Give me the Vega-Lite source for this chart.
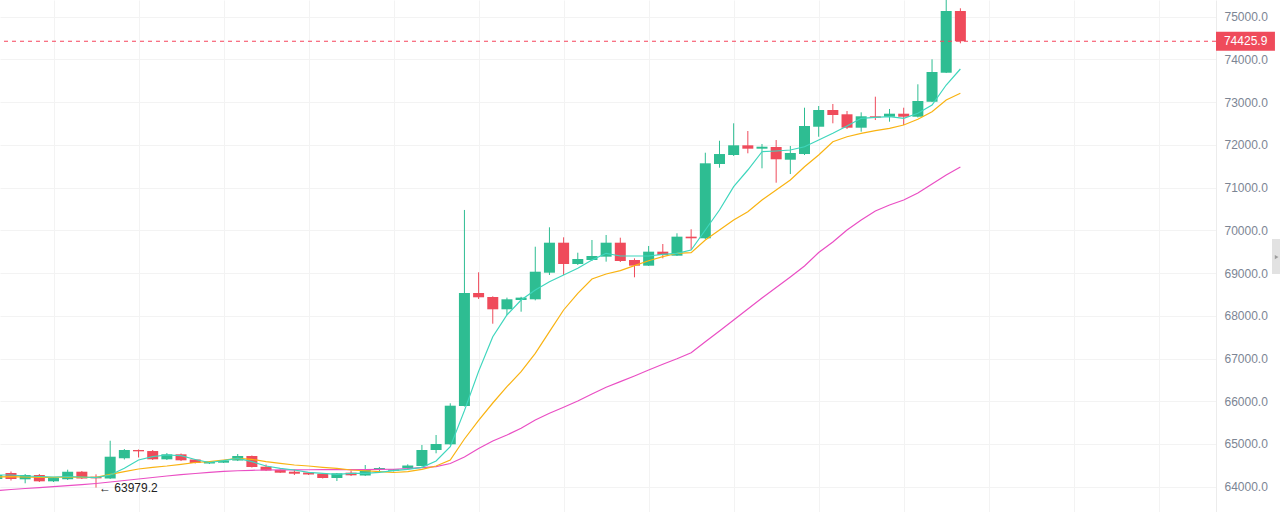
{
  "$schema": "https://vega.github.io/schema/vega-lite/v6.json",
  "width": 1216,
  "height": 512,
  "autosize": "none",
  "padding": {"left": 0, "top": 0, "bottom": 0, "right": 64},
  "background": "white",
  "config": {
    "view": {"stroke": null},
    "font": "Liberation Sans",
    "scale": {"continuousPadding": 0},
    "axis": {"gridColor": "#f3f3f3", "gridWidth": 1}
  },
  "datasets": {
    "candles": [
      {"i": -1, "o": 64180, "h": 64321, "l": 64133, "c": 64274, "ma5": 64274, "ma10": 64227, "ma30": 63911},
      {"i": 0, "o": 64321, "h": 64356, "l": 64145, "c": 64180, "ma5": 64274, "ma10": 64234, "ma30": 63935},
      {"i": 1, "o": 64173, "h": 64297, "l": 64080, "c": 64274, "ma5": 64250, "ma10": 64227, "ma30": 63958},
      {"i": 2, "o": 64274, "h": 64297, "l": 64110, "c": 64126, "ma5": 64239, "ma10": 64220, "ma30": 63977},
      {"i": 3, "o": 64126, "h": 64227, "l": 64110, "c": 64203, "ma5": 64227, "ma10": 64220, "ma30": 64000},
      {"i": 4, "o": 64173, "h": 64398, "l": 64157, "c": 64351, "ma5": 64239, "ma10": 64227, "ma30": 64023},
      {"i": 5, "o": 64351, "h": 64367, "l": 64180, "c": 64192, "ma5": 64227, "ma10": 64220, "ma30": 64047},
      {"i": 6, "o": 64234, "h": 64290, "l": 63979.2, "c": 64196, "ma5": 64211, "ma10": 64220, "ma30": 64075},
      {"i": 7, "o": 64192, "h": 65076, "l": 64180, "c": 64702, "ma5": 64274, "ma10": 64290, "ma30": 64110},
      {"i": 8, "o": 64665, "h": 64882, "l": 64637, "c": 64859, "ma5": 64430, "ma10": 64351, "ma30": 64145},
      {"i": 9, "o": 64859, "h": 64871, "l": 64684, "c": 64828, "ma5": 64625, "ma10": 64414, "ma30": 64180},
      {"i": 10, "o": 64835, "h": 64859, "l": 64625, "c": 64641, "ma5": 64702, "ma10": 64454, "ma30": 64215},
      {"i": 11, "o": 64641, "h": 64788, "l": 64625, "c": 64758, "ma5": 64742, "ma10": 64484, "ma30": 64250},
      {"i": 12, "o": 64758, "h": 64777, "l": 64601, "c": 64618, "ma5": 64726, "ma10": 64524, "ma30": 64281},
      {"i": 13, "o": 64637, "h": 64648, "l": 64543, "c": 64555, "ma5": 64637, "ma10": 64566, "ma30": 64309},
      {"i": 14, "o": 64543, "h": 64601, "l": 64531, "c": 64590, "ma5": 64567, "ma10": 64585, "ma30": 64337},
      {"i": 15, "o": 64562, "h": 64625, "l": 64555, "c": 64613, "ma5": 64609, "ma10": 64625, "ma30": 64360},
      {"i": 16, "o": 64613, "h": 64765, "l": 64601, "c": 64718, "ma5": 64665, "ma10": 64665, "ma30": 64374},
      {"i": 17, "o": 64718, "h": 64730, "l": 64449, "c": 64461, "ma5": 64586, "ma10": 64641, "ma30": 64384},
      {"i": 18, "o": 64468, "h": 64520, "l": 64367, "c": 64379, "ma5": 64485, "ma10": 64585, "ma30": 64391},
      {"i": 19, "o": 64391, "h": 64403, "l": 64321, "c": 64328, "ma5": 64430, "ma10": 64547, "ma30": 64393},
      {"i": 20, "o": 64351, "h": 64398, "l": 64274, "c": 64304, "ma5": 64391, "ma10": 64508, "ma30": 64395},
      {"i": 21, "o": 64332, "h": 64344, "l": 64274, "c": 64286, "ma5": 64337, "ma10": 64484, "ma30": 64397},
      {"i": 22, "o": 64304, "h": 64321, "l": 64192, "c": 64204, "ma5": 64314, "ma10": 64454, "ma30": 64398},
      {"i": 23, "o": 64204, "h": 64321, "l": 64133, "c": 64314, "ma5": 64290, "ma10": 64431, "ma30": 64399},
      {"i": 24, "o": 64328, "h": 64379, "l": 64251, "c": 64267, "ma5": 64314, "ma10": 64391, "ma30": 64400},
      {"i": 25, "o": 64262, "h": 64508, "l": 64251, "c": 64403, "ma5": 64314, "ma10": 64374, "ma30": 64402},
      {"i": 26, "o": 64403, "h": 64461, "l": 64367, "c": 64438, "ma5": 64337, "ma10": 64351, "ma30": 64405},
      {"i": 27, "o": 64374, "h": 64414, "l": 64356, "c": 64407, "ma5": 64375, "ma10": 64332, "ma30": 64408},
      {"i": 28, "o": 64431, "h": 64524, "l": 64414, "c": 64496, "ma5": 64407, "ma10": 64351, "ma30": 64421},
      {"i": 29, "o": 64484, "h": 64976, "l": 64473, "c": 64859, "ma5": 64454, "ma10": 64407, "ma30": 64445},
      {"i": 30, "o": 64859, "h": 65210, "l": 64782, "c": 64999, "ma5": 64602, "ma10": 64484, "ma30": 64468},
      {"i": 31, "o": 64992, "h": 65952, "l": 64976, "c": 65896, "ma5": 64936, "ma10": 64625, "ma30": 64543},
      {"i": 32, "o": 65889, "h": 70477, "l": 65877, "c": 68534, "ma5": 65780, "ma10": 65117, "ma30": 64695},
      {"i": 33, "o": 68534, "h": 69018, "l": 68393, "c": 68433, "ma5": 66700, "ma10": 65550, "ma30": 64894},
      {"i": 34, "o": 68440, "h": 68456, "l": 67815, "c": 68152, "ma5": 67511, "ma10": 65959, "ma30": 65069},
      {"i": 35, "o": 68152, "h": 68425, "l": 68018, "c": 68386, "ma5": 68019, "ma10": 66341, "ma30": 65210},
      {"i": 36, "o": 68369, "h": 68444, "l": 68096, "c": 68425, "ma5": 68370, "ma10": 66692, "ma30": 65366},
      {"i": 37, "o": 68386, "h": 69617, "l": 68362, "c": 69032, "ma5": 68604, "ma10": 67122, "ma30": 65561},
      {"i": 38, "o": 69009, "h": 70071, "l": 68955, "c": 69711, "ma5": 68798, "ma10": 67628, "ma30": 65718},
      {"i": 39, "o": 69711, "h": 69837, "l": 68955, "c": 69212, "ma5": 68955, "ma10": 68136, "ma30": 65858},
      {"i": 40, "o": 69212, "h": 69477, "l": 69189, "c": 69329, "ma5": 69112, "ma10": 68526, "ma30": 66006},
      {"i": 41, "o": 69306, "h": 69774, "l": 69283, "c": 69400, "ma5": 69306, "ma10": 68861, "ma30": 66170},
      {"i": 42, "o": 69384, "h": 69891, "l": 69267, "c": 69711, "ma5": 69462, "ma10": 68978, "ma30": 66327},
      {"i": 43, "o": 69711, "h": 69828, "l": 69259, "c": 69283, "ma5": 69399, "ma10": 69056, "ma30": 66458},
      {"i": 44, "o": 69306, "h": 69345, "l": 68901, "c": 69173, "ma5": 69399, "ma10": 69173, "ma30": 66591},
      {"i": 45, "o": 69173, "h": 69634, "l": 69166, "c": 69501, "ma5": 69399, "ma10": 69289, "ma30": 66731},
      {"i": 46, "o": 69501, "h": 69680, "l": 69345, "c": 69423, "ma5": 69439, "ma10": 69383, "ma30": 66865},
      {"i": 47, "o": 69407, "h": 69931, "l": 69400, "c": 69852, "ma5": 69462, "ma10": 69463, "ma30": 66996},
      {"i": 48, "o": 69852, "h": 70025, "l": 69540, "c": 69814, "ma5": 69540, "ma10": 69477, "ma30": 67136},
      {"i": 49, "o": 69814, "h": 71817, "l": 69797, "c": 71569, "ma5": 70008, "ma10": 69774, "ma30": 67394},
      {"i": 50, "o": 71552, "h": 72097, "l": 71466, "c": 71786, "ma5": 70476, "ma10": 70008, "ma30": 67644},
      {"i": 51, "o": 71763, "h": 72505, "l": 71740, "c": 71990, "ma5": 71021, "ma10": 70242, "ma30": 67901},
      {"i": 52, "o": 71990, "h": 72325, "l": 71803, "c": 71911, "ma5": 71412, "ma10": 70436, "ma30": 68159},
      {"i": 53, "o": 71911, "h": 72021, "l": 71452, "c": 71957, "ma5": 71840, "ma10": 70710, "ma30": 68416},
      {"i": 54, "o": 71950, "h": 72114, "l": 71115, "c": 71663, "ma5": 71857, "ma10": 70944, "ma30": 68662},
      {"i": 55, "o": 71653, "h": 71974, "l": 71318, "c": 71810, "ma5": 71880, "ma10": 71178, "ma30": 68908},
      {"i": 56, "o": 71786, "h": 72870, "l": 71763, "c": 72442, "ma5": 71957, "ma10": 71489, "ma30": 69165},
      {"i": 57, "o": 72425, "h": 72910, "l": 72191, "c": 72816, "ma5": 72114, "ma10": 71763, "ma30": 69481},
      {"i": 58, "o": 72816, "h": 72957, "l": 72505, "c": 72699, "ma5": 72271, "ma10": 72074, "ma30": 69727},
      {"i": 59, "o": 72716, "h": 72793, "l": 72372, "c": 72402, "ma5": 72442, "ma10": 72191, "ma30": 70008},
      {"i": 60, "o": 72402, "h": 72762, "l": 72309, "c": 72669, "ma5": 72622, "ma10": 72271, "ma30": 70242},
      {"i": 61, "o": 72669, "h": 73128, "l": 72582, "c": 72636, "ma5": 72646, "ma10": 72332, "ma30": 70453},
      {"i": 62, "o": 72659, "h": 72840, "l": 72543, "c": 72730, "ma5": 72660, "ma10": 72388, "ma30": 70593},
      {"i": 63, "o": 72730, "h": 72870, "l": 72465, "c": 72659, "ma5": 72622, "ma10": 72465, "ma30": 70710},
      {"i": 64, "o": 72659, "h": 73418, "l": 72641, "c": 73027, "ma5": 72739, "ma10": 72599, "ma30": 70874},
      {"i": 65, "o": 73010, "h": 74003, "l": 73003, "c": 73706, "ma5": 72933, "ma10": 72777, "ma30": 71084},
      {"i": 66, "o": 73689, "h": 75461, "l": 73682, "c": 75133, "ma5": 73401, "ma10": 73050, "ma30": 71295},
      {"i": 67, "o": 75133, "h": 75197, "l": 74377, "c": 74425.9, "ma5": 73776, "ma10": 73207, "ma30": 71482}
    ],
    "last": [{"price": 74425.9, "label": "74425.9", "x0": 85.04, "x1": 89.2, "xt": 85.6}],
    "lowmark": [{"i": 6, "l": 63979.2, "label": "← 63979.2"}],
    "tab": [{"x0": 88.99, "x1": 89.6, "top": 69797, "bottom": 68978, "xm": 89.32, "ym": 69376}]
  },
  "encoding": {
    "x": {
      "field": "i",
      "type": "quantitative",
      "scale": {"domain": [-0.776, 85.04], "nice": false, "zero": false, "padding": 0},
      "axis": {
        "values": [3, 9, 15, 21, 27, 33, 39, 45, 51, 57, 63, 69, 75, 81],
        "labels": false,
        "ticks": false,
        "domain": false,
        "grid": true,
        "title": null
      }
    }
  },
  "layer": [
    {
      "data": {"name": "candles"},
      "mark": {"type": "rule", "strokeWidth": 1, "clip": true},
      "encoding": {
        "y": {
          "field": "l",
          "type": "quantitative",
          "scale": {"domain": [63408, 75391], "nice": false, "zero": false, "padding": 0},
          "axis": {
            "orient": "right",
            "values": [64000, 65000, 66000, 67000, 68000, 69000, 70000, 71000, 72000, 73000, 74000, 75000],
            "format": ".1f",
            "title": null,
            "ticks": false,
            "domain": true,
            "domainColor": "#ececec",
            "labelColor": "#7c8594",
            "labelFontSize": 12,
            "labelPadding": 8,
            "labelFont": "Liberation Sans",
            "grid": true
          }
        },
        "y2": {"field": "h"},
        "color": {
          "condition": {"test": "datum.c >= datum.o", "value": "#2ebd92"},
          "value": "#ef4b5b"
        }
      }
    },
    {
      "data": {"name": "candles"},
      "mark": {"type": "bar", "width": 11, "clip": true},
      "encoding": {
        "y": {"field": "o", "type": "quantitative", "scale": {"domain": [63408, 75391], "nice": false, "zero": false, "padding": 0}},
        "y2": {"field": "c"},
        "color": {
          "condition": {"test": "datum.c >= datum.o", "value": "#2ebd92"},
          "value": "#ef4b5b"
        }
      }
    },
    {
      "data": {"name": "candles"},
      "mark": {"type": "line", "stroke": "#ea4fc4", "strokeWidth": 1.2, "clip": true},
      "encoding": {"y": {"field": "ma30", "type": "quantitative", "scale": {"domain": [63408, 75391], "nice": false, "zero": false, "padding": 0}}}
    },
    {
      "data": {"name": "candles"},
      "mark": {"type": "line", "stroke": "#f9b312", "strokeWidth": 1.2, "clip": true},
      "encoding": {"y": {"field": "ma10", "type": "quantitative", "scale": {"domain": [63408, 75391], "nice": false, "zero": false, "padding": 0}}}
    },
    {
      "data": {"name": "candles"},
      "mark": {"type": "line", "stroke": "#3fd6bd", "strokeWidth": 1.2, "clip": true},
      "encoding": {"y": {"field": "ma5", "type": "quantitative", "scale": {"domain": [63408, 75391], "nice": false, "zero": false, "padding": 0}}}
    },
    {
      "data": {"name": "last"},
      "mark": {"type": "rule", "stroke": "#f6465d", "strokeDash": [4, 4], "strokeWidth": 1.2, "opacity": 1},
      "encoding": {
        "x": {"field": "x0", "type": "quantitative", "scale": {"domain": [-0.776, 85.04], "nice": false, "zero": false, "padding": 0}},
        "x2": {"value": 0},
        "y": {"field": "price", "type": "quantitative", "scale": {"domain": [63408, 75391], "nice": false, "zero": false, "padding": 0}}
      }
    },
    {
      "data": {"name": "last"},
      "mark": {"type": "bar", "orient": "horizontal", "height": 19, "fill": "#ef4b5b", "clip": false},
      "encoding": {
        "x": {"field": "x0", "type": "quantitative", "scale": {"domain": [-0.776, 85.04], "nice": false, "zero": false, "padding": 0}},
        "x2": {"field": "x1"},
        "y": {"field": "price", "type": "quantitative", "scale": {"domain": [63408, 75391], "nice": false, "zero": false, "padding": 0}}
      }
    },
    {
      "data": {"name": "last"},
      "mark": {"type": "text", "align": "left", "baseline": "middle", "fill": "white", "fontSize": 12, "font": "Liberation Sans", "clip": false},
      "encoding": {
        "x": {"field": "xt", "type": "quantitative", "scale": {"domain": [-0.776, 85.04], "nice": false, "zero": false, "padding": 0}},
        "y": {"field": "price", "type": "quantitative", "scale": {"domain": [63408, 75391], "nice": false, "zero": false, "padding": 0}},
        "text": {"field": "label"}
      }
    },
    {
      "data": {"name": "tab"},
      "mark": {"type": "rect", "fill": "#e2e2e2", "clip": false},
      "encoding": {
        "x": {"field": "x0", "type": "quantitative", "scale": {"domain": [-0.776, 85.04], "nice": false, "zero": false, "padding": 0}},
        "x2": {"field": "x1"},
        "y": {"field": "top", "type": "quantitative", "scale": {"domain": [63408, 75391], "nice": false, "zero": false, "padding": 0}},
        "y2": {"field": "bottom"}
      }
    },
    {
      "data": {"name": "tab"},
      "mark": {"type": "point", "shape": "triangle-right", "filled": true, "size": 18, "fill": "#808080", "clip": false},
      "encoding": {
        "x": {"field": "xm", "type": "quantitative", "scale": {"domain": [-0.776, 85.04], "nice": false, "zero": false, "padding": 0}},
        "y": {"field": "ym", "type": "quantitative", "scale": {"domain": [63408, 75391], "nice": false, "zero": false, "padding": 0}}
      }
    },
    {
      "data": {"name": "lowmark"},
      "mark": {"type": "text", "align": "left", "baseline": "middle", "dx": 3, "fill": "#222222", "fontSize": 12, "font": "Liberation Sans"},
      "encoding": {
        "y": {"field": "l", "type": "quantitative", "scale": {"domain": [63408, 75391], "nice": false, "zero": false, "padding": 0}},
        "text": {"field": "label"}
      }
    }
  ]
}
